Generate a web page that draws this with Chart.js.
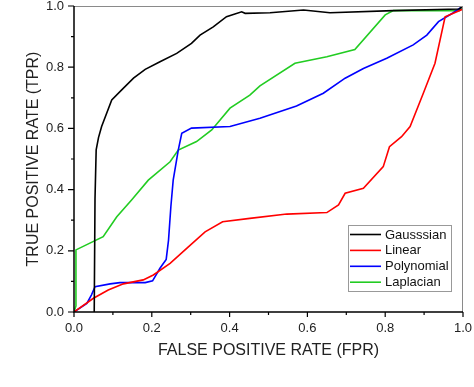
<!DOCTYPE html>
<html><head><meta charset="utf-8">
<script src="https://cdn.jsdelivr.net/npm/chart.js@4.4.0/dist/chart.umd.min.js"></script>
<style>html,body{margin:0;padding:0;background:#fff;}</style>
</head><body>
<canvas id="c" width="474" height="387" style="width:474px;height:387px;display:block"></canvas>
<script>
const seriesNames = ['Gausssian', 'Linear', 'Polynomial', 'Laplacian'];
const seriesColors = ['#000000', '#ff0000', '#0000ff', '#22cc22'];

const gaussFpr = [0.052, 0.054, 0.057, 0.063, 0.071, 0.097, 0.122, 0.153, 0.183, 0.221, 0.264, 0.302, 0.324, 0.358, 0.392, 0.431, 0.44, 0.504, 0.59, 0.658, 0.82, 0.99, 1.0];
const gaussTpr = [0.0, 0.37, 0.53, 0.57, 0.606, 0.693, 0.725, 0.764, 0.793, 0.818, 0.845, 0.878, 0.905, 0.932, 0.965, 0.981, 0.976, 0.978, 0.987, 0.978, 0.985, 0.99, 1.0];

const linearFpr = [0, 0.05, 0.088, 0.127, 0.178, 0.204, 0.247, 0.294, 0.337, 0.382, 0.452, 0.547, 0.65, 0.68, 0.697, 0.744, 0.795, 0.811, 0.842, 0.864, 0.898, 0.928, 0.954, 1.0, 1.0];
const linearTpr = [0, 0.045, 0.072, 0.092, 0.105, 0.121, 0.159, 0.213, 0.262, 0.295, 0.306, 0.32, 0.325, 0.35, 0.388, 0.404, 0.475, 0.54, 0.573, 0.606, 0.715, 0.813, 0.965, 0.99, 1.0];

const polyFpr = [0, 0.033, 0.045, 0.054, 0.093, 0.118, 0.183, 0.202, 0.221, 0.237, 0.243, 0.249, 0.255, 0.268, 0.277, 0.302, 0.401, 0.478, 0.572, 0.641, 0.697, 0.744, 0.804, 0.872, 0.907, 0.937, 0.975, 1.0];
const polyTpr = [0, 0.028, 0.056, 0.083, 0.092, 0.096, 0.096, 0.102, 0.143, 0.172, 0.235, 0.344, 0.431, 0.529, 0.584, 0.601, 0.606, 0.633, 0.673, 0.715, 0.764, 0.796, 0.829, 0.873, 0.905, 0.949, 0.978, 1.0];

const lapFpr = [0, 0.005, 0.005, 0.075, 0.11, 0.148, 0.191, 0.247, 0.268, 0.315, 0.354, 0.401, 0.452, 0.478, 0.568, 0.65, 0.722, 0.8, 0.821, 0.99, 1.0];
const lapTpr = [0, 0.02, 0.203, 0.246, 0.311, 0.366, 0.431, 0.491, 0.529, 0.557, 0.595, 0.666, 0.709, 0.739, 0.813, 0.834, 0.858, 0.971, 0.985, 0.985, 1.0];

const majorTicks = [0, 0.2, 0.4, 0.6, 0.8, 1.0];
const minorTicks = [0.1, 0.3, 0.5, 0.7, 0.9];
const xTitle = 'FALSE POSITIVE RATE (FPR)';
const yTitle = 'TRUE POSITIVE RATE (TPR)';

const FONT = 'Arial, "Liberation Sans", sans-serif';

function pts(xs, ys) { return xs.map((x, i) => ({x: x, y: ys[i]})); }
const allX = [gaussFpr, linearFpr, polyFpr, lapFpr];
const allY = [gaussTpr, linearTpr, polyTpr, lapTpr];

const datasets = seriesNames.map((name, i) => ({
  label: name,
  data: pts(allX[i], allY[i]),
  borderColor: seriesColors[i],
  backgroundColor: seriesColors[i],
  borderWidth: 1.6,
  pointRadius: 0,
  showLine: true,
  tension: 0,
  fill: false
}));

const framePlugin = {
  id: 'frame',
  afterDraw(chart) {
    const ctx = chart.ctx;
    const a = chart.chartArea;
    const xs = chart.scales.x, ys = chart.scales.y;
    ctx.save();
    // top and right frame
    ctx.strokeStyle = '#8a8a8a';
    ctx.lineWidth = 1;
    ctx.beginPath();
    ctx.moveTo(a.left, a.top + 0.5); ctx.lineTo(a.right, a.top + 0.5);
    ctx.moveTo(a.right - 0.5, a.top); ctx.lineTo(a.right - 0.5, a.bottom);
    ctx.stroke();
    // left & bottom axes
    ctx.strokeStyle = '#000';
    ctx.lineWidth = 1.5;
    ctx.beginPath();
    ctx.moveTo(a.left, a.top); ctx.lineTo(a.left, a.bottom);
    ctx.lineTo(a.right, a.bottom);
    ctx.stroke();
    // tick marks
    ctx.lineWidth = 1.2;
    ctx.beginPath();
    majorTicks.forEach(v => {
      const px = xs.getPixelForValue(v);
      ctx.moveTo(px, a.bottom); ctx.lineTo(px, a.bottom + 5);
      const py = ys.getPixelForValue(v);
      ctx.moveTo(a.left, py); ctx.lineTo(a.left - 6, py);
    });
    minorTicks.forEach(v => {
      const px = xs.getPixelForValue(v);
      ctx.moveTo(px, a.bottom); ctx.lineTo(px, a.bottom + 3);
      const py = ys.getPixelForValue(v);
      ctx.moveTo(a.left, py); ctx.lineTo(a.left - 3, py);
    });
    ctx.stroke();

    // legend
    const bx = a.right - 115, by = a.bottom - 87, bw = 103, bh = 66;
    ctx.fillStyle = '#fff';
    ctx.fillRect(bx, by, bw, bh);
    ctx.strokeStyle = '#999';
    ctx.lineWidth = 1;
    ctx.strokeRect(bx + 0.5, by + 0.5, bw, bh);
    ctx.font = '13px ' + FONT;
    ctx.textBaseline = 'middle';
    ctx.textAlign = 'left';
    chart.data.datasets.forEach((ds, i) => {
      const cy = by + 9.5 + i * 15.9;
      ctx.strokeStyle = ds.borderColor;
      ctx.lineWidth = 1.6;
      ctx.beginPath();
      ctx.moveTo(bx + 2, cy); ctx.lineTo(bx + 33, cy);
      ctx.stroke();
      ctx.fillStyle = '#111';
      ctx.fillText(ds.label, bx + 37, cy + 0.5);
    });
    ctx.restore();
  }
};

new Chart(document.getElementById('c'), {
  type: 'scatter',
  data: { datasets: datasets },
  options: {
    responsive: false,
    animation: false,
    layout: { padding: { left: 0, right: 11, top: 6, bottom: 0 } },
    plugins: { legend: { display: false }, tooltip: { enabled: false } },
    scales: {
      x: {
        type: 'linear', min: 0, max: 1,
        afterBuildTicks(s) { s.ticks = majorTicks.map(v => ({value: v})); },
        ticks: { callback: v => Number(v).toFixed(1), font: { size: 13, family: FONT }, color: '#222', padding: 9, maxRotation: 0, autoSkip: false },
        grid: { display: false, drawTicks: false },
        border: { display: false },
        title: { display: true, text: xTitle, font: { size: 16, family: FONT }, color: '#222', padding: { top: 4, bottom: 27 } },
        afterFit(s) { s.height = 75; s.paddingLeft = 0; s.paddingRight = 0; s.paddingTop = 0; s.paddingBottom = 0; }
      },
      y: {
        type: 'linear', min: 0, max: 1,
        afterBuildTicks(s) { s.ticks = majorTicks.map(v => ({value: v})); },
        ticks: { callback: v => Number(v).toFixed(1), font: { size: 13, family: FONT }, color: '#222', padding: 10, autoSkip: false },
        grid: { display: false, drawTicks: false },
        border: { display: false },
        title: { display: true, text: yTitle, font: { size: 16, family: FONT }, color: '#222', padding: { top: 24, bottom: 4 } },
        afterFit(s) { s.width = 74; s.paddingLeft = 0; s.paddingRight = 0; s.paddingTop = 0; s.paddingBottom = 0; }
      }
    }
  },
  plugins: [framePlugin]
});
</script>
</body></html>
